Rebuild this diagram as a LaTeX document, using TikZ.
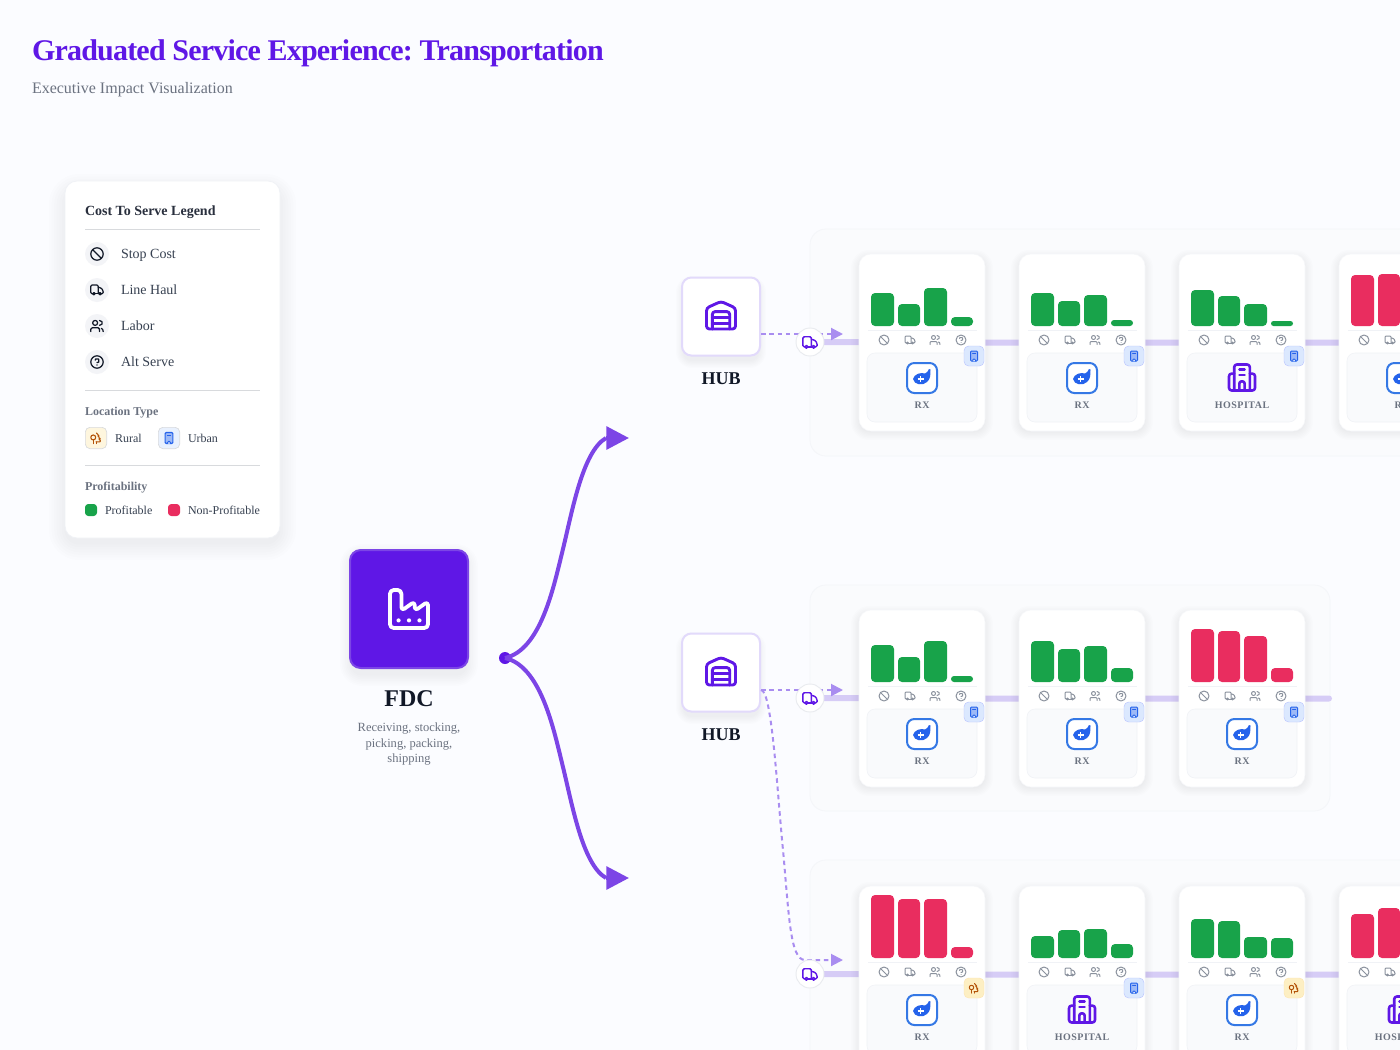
\documentclass[tikz,border=0pt]{standalone}
\usepackage{fontspec}
\setmainfont{Liberation Serif}
\newfontfamily\lblfont[LetterSpace=5]{Liberation Serif}
\usetikzlibrary{arrows.meta,calc}
\definecolor{bgc}{HTML}{FBFCFF}
\definecolor{panelc}{HTML}{F9FAFC}
\definecolor{contc}{HTML}{FAFBFD}
\definecolor{linec}{HTML}{F0F2F6}
\definecolor{purp}{HTML}{5F17E6}
\definecolor{curvec}{HTML}{7C45E6}
\definecolor{lilac}{HTML}{A98DF0}
\definecolor{bandc}{HTML}{D6CCF6}
\definecolor{hubl}{HTML}{E2DAFB}
\definecolor{grn}{HTML}{18A34A}
\definecolor{rd}{HTML}{E92D5F}
\definecolor{dark}{HTML}{111827}
\definecolor{ink}{HTML}{374151}
\definecolor{greyt}{HTML}{6B7280}
\definecolor{icong}{HTML}{8A919D}
\definecolor{blu}{HTML}{3578E5}
\definecolor{blud}{HTML}{2563EB}
\definecolor{orng}{HTML}{B45309}
\definecolor{urbf}{HTML}{DBE8FE}
\definecolor{rurf}{HTML}{FDEFC3}
\pgfdeclarelayer{cont}
\pgfdeclarelayer{bands}
\pgfsetlayers{cont,bands,main}
\tikzset{
  x=.75pt,y=-.75pt,
  every node/.style={inner sep=0pt,outer sep=0pt},
  cardbox/.style={fill=white,draw=linec!60!white,line width=.4pt,rounded corners=9pt,minimum width=94.5pt,minimum height=132.75pt},
  panelbox/.style={fill=panelc,draw=linec,line width=.4pt,rounded corners=6pt,minimum width=82.5pt,minimum height=51.75pt},
  rxbox/.style={fill=white,draw=blu,line width=1.5pt,rounded corners=5.5pt,minimum width=22.5pt,minimum height=22.5pt},
  urbbadge/.style={fill=urbf,draw=urbf!80!blue!90,line width=.3pt,rounded corners=3.5pt,minimum width=15pt,minimum height=15pt},
  rurbadge/.style={fill=rurf,draw=rurf!90!orange,line width=.3pt,rounded corners=3.5pt,minimum width=15pt,minimum height=15pt},
  lblt/.style={font=\lblfont\bfseries\fontsize{7.5pt}{9pt}\selectfont,text=greyt},
  bandline/.style={bandc,line width=4.5pt},
  dashline/.style={lilac,line width=1.5pt,dash pattern=on 3.4pt off 2.8pt},
  dashtip/.style={lilac,line width=1.5pt,-{Triangle[length=9pt,width=9pt,fill=lilac]}},
  bigcurve/.style={curvec,line width=3pt},
  bigtip/.style={curvec,line width=3pt,-{Triangle[length=17pt,width=17pt,fill=curvec]}},
  truckc/.style={circle,fill=white,draw=linec!97!black,line width=.7pt,minimum size=21pt},
  hubbox/.style={fill=white,draw=hubl,line width=1.5pt,rounded corners=7pt,minimum width=58.5pt,minimum height=58.5pt},
  hubt/.style={font=\bfseries\fontsize{13.5pt}{16pt}\selectfont,text=dark},
  lgc/.style={circle,fill=black!3!bgc,minimum size=18pt},
  lgt/.style={anchor=base west,font=\fontsize{10.5pt}{12pt}\selectfont,text=ink},
  lgs/.style={anchor=base west,font=\fontsize{9pt}{11pt}\selectfont,text=ink},
  lgh/.style={anchor=base west,font=\bfseries\fontsize{9pt}{11pt}\selectfont,text=greyt},
  contbox/.style={fill=contc,draw=linec!70!white,line width=.6pt,rounded corners=12pt},
}
% shadow: x0,y0,x1,y1,radius(px),spread(px),opacity
\newcommand\softshadow[7]{%
  \foreach \s in {1,...,7}{%
    \pgfmathsetlengthmacro\rr{(#5+\s*#6/7)*.75pt}%
    \fill[black,opacity=#7,rounded corners=\rr]
      ({#1-\s*#6/7},{#2-\s*#6/7}) rectangle ({#3+\s*#6/7},{#4+\s*#6/7});
  }%
}
% lucide-like icons in a 24 unit box
\newcommand\ico[5]{%
  \pgfmathsetlengthmacro\icu{#4*.75pt}%
  \pgfmathsetlengthmacro\icw{#4*1.5pt}%
  \begin{scope}[shift={(#2,#3)},x=\icu,y=-\icu,shift={(-12,-12)},draw=#5,line width=\icw,line cap=round,line join=round,rounded corners=\icw]
  \csname ic#1\endcsname{#5}
  \end{scope}%
}
\newcommand\icban[1]{\draw (12,12) circle[radius=10]; \draw (4.93,4.93)--(19.07,19.07);}
\newcommand\ictruck[1]{%
  \draw (5,18)--(2,18)--(2,4)--(14,4)--(14,18);
  \draw (15,18)--(9,18);
  \draw (19,18)--(22,18)--(22,13)--(18,8)--(14,8);
  \draw (17,18) circle[radius=2]; \draw (7,18) circle[radius=2];}
\newcommand\icusers[1]{%
  \draw (16,21)--(16,15)--(2,15)--(2,21);
  \draw (9,7) circle[radius=4];
  \draw (22,21) .. controls (22,18) and (21,16.5) .. (19,15.9);
  \draw (16,3.1) .. controls (19,3.9) and (20,5.5) .. (20,7) .. controls (20,8.5) and (19,10.1) .. (16,10.9);}
\newcommand\ichelp[1]{%
  \draw (12,12) circle[radius=10];
  \draw (9.1,9) .. controls (9.6,7.6) and (10.8,7) .. (12,7) .. controls (13.7,7) and (15,8.2) .. (15,10) .. controls (15,12) and (12,13) .. (12,13);
  \draw (12,17)--(12.01,17);}
\newcommand\icfactory[1]{%
  \draw (2,15)--(2,22)--(22,22)--(22,8)--(15,13)--(15,8)--(8,13)--(8,2)--(2,2)--cycle;
  \fill[#1] (17.5,18) circle[radius=1.1]; \fill[#1] (12,18) circle[radius=1.1]; \fill[#1] (6.5,18) circle[radius=1.1];}
\newcommand\icware[1]{%
  \draw (22,15)--(22,22)--(2,22)--(2,7.5)--(12,3)--(22,7.5)--cycle;
  \draw (6,18)--(18,18); \draw (6,14)--(18,14);
  \draw (6,22)--(6,10)--(18,10)--(18,22);}
\newcommand\ichosp[1]{%
  \draw (6,22)--(6,2)--(18,2)--(18,22);
  \draw (6,9)--(2,9)--(2,22)--(22,22)--(22,9)--(18,9);
  \draw (10,6)--(14,6); \draw (10,10)--(14,10);
  \draw[rounded corners=1.5] (10,22)--(10,15)--(14,15)--(14,22);}
\newcommand\icurban[1]{%
  \draw[fill=#1!45!white] (5,2) rectangle (19,22);
  \draw (9,7)--(15,7);
  \draw[fill=white] (9.5,22)--(9.5,18)--(14.5,18)--(14.5,22);}
\newcommand\icrural[1]{%
  \draw (7,11) circle[radius=4.5];
  \draw (7,16)--(7,22); \draw (13,19)--(13,22);
  \draw (12,19)--(21,19)--(18,14)--(19,13)--(16,9)--(17,7.5)--(13,3);}
% inner content macros (use \cx,\cy,\cid)
\newcommand\rxk{%
  \node[panelbox] (\cid p) at ({\cx+63},{\cy+133.5}) {};
  \node[rxbox] (\cid i) at ({\cx+63},{\cy+124}) {};
  \fill[blud] ({\cx+54},{\cy+125}) .. controls ({\cx+55},{\cy+120}) and ({\cx+62},{\cy+118}) .. ({\cx+66},{\cy+119.5}) .. controls ({\cx+68},{\cy+119}) and ({\cx+69},{\cy+117}) .. ({\cx+70},{\cy+115}) -- ({\cx+71.5},{\cy+115.5}) .. controls ({\cx+71.5},{\cy+121}) and ({\cx+71.5},{\cy+125}) .. ({\cx+68},{\cy+128}) .. controls ({\cx+64},{\cy+132}) and ({\cx+55},{\cy+131}) .. ({\cx+54},{\cy+125}) -- cycle;
  \draw[white,line width=.9pt] ({\cx+58.5},{\cy+125})--({\cx+64.5},{\cy+125});
  \draw[white,line width=.9pt] ({\cx+61.5},{\cy+122})--({\cx+61.5},{\cy+128});
  \node[lblt] (\cid l) at ({\cx+63},{\cy+151.5}) {RX};
}
\newcommand\hospk{%
  \node[panelbox] (\cid p) at ({\cx+63},{\cy+133.5}) {};
  \ico{hosp}{\cx+63}{\cy+123.5}{1.3}{purp}
  \node[lblt] (\cid l) at ({\cx+63},{\cy+151.5}) {HOSPITAL};
}
\newcommand\urbk{%
  \node[urbbadge] (\cid b) at ({\cx+115},{\cy+102}) {};
  \ico{urban}{\cx+115}{\cy+102}{.5}{blud}
}
\newcommand\rurk{%
  \node[rurbadge] (\cid b) at ({\cx+115},{\cy+102}) {};
  \ico{rural}{\cx+115}{\cy+102}{.5}{orng}
}
% id, x, y, colour, h1..h4, content
\newcommand\card[9]{%
  \def\cid{#1}\def\cx{#2}\def\cy{#3}%
  \softshadow{#2+1}{#3+5}{#2+125}{#3+177}{9}{9}{.007}
  \node[cardbox] (#1) at ({#2+63},{#3+88.5}) {};
  \foreach \xo/\wd/\hh in {12/23/#5,39/22/#6,65/23/#7,92/22/#8}{%
    \pgfmathsetlengthmacro\br{min(4,\hh/2)*.75pt}%
    \fill[#4,rounded corners=\br] ({#2+\xo},{#3+72-\hh}) rectangle ({#2+\xo+\wd},{#3+72});
  }
  \draw[linec,line width=.6pt] ({#2+9},{#3+76.5})--({#2+118},{#3+76.5});
  \ico{ban}{#2+25}{#3+86}{.5}{icong}
  \ico{truck}{#2+51}{#3+86}{.5}{icong}
  \ico{users}{#2+76}{#3+86}{.5}{icong}
  \ico{help}{#2+102}{#3+86}{.5}{icong}
  #9
}
\begin{document}
\begin{tikzpicture}
\frenchspacing
\useasboundingbox (0,0) rectangle (1400,1050);
\clip (0,0) rectangle (1400,1050);
\begin{pgfonlayer}{cont}
\fill[bgc] (0,0) rectangle (1400,1050);
\end{pgfonlayer}
% heading
\node[anchor=base west,font=\bfseries\fontsize{22.5pt}{27pt}\selectfont,text=purp] (title) at (32,60) {\addfontfeature{LetterSpace=-2.65}Graduated Service Experience: Transportation};
\node[anchor=base west,font=\fontsize{12pt}{15pt}\selectfont,text=greyt] (subtitle) at (32,93) {Executive Impact Visualization};
% legend
\softshadow{67}{192}{278}{542}{12}{18}{.007}
\node[fill=white,draw=linec,line width=.6pt,rounded corners=9pt,minimum width=161.25pt,minimum height=267.75pt] (legend) at (172.5,359.5) {};
\node[anchor=base west,font=\bfseries\fontsize{10.5pt}{12pt}\selectfont,text=dark!90!white] (lgtitle) at (85,215) {Cost To Serve Legend};
\draw[linec!90!black,line width=.75pt] (85,229.5)--(260,229.5);
\node[lgc] (li1) at (97,254) {}; \ico{ban}{97}{254}{.62}{dark}
\node[lgc] (li2) at (97,290) {}; \ico{truck}{97}{290}{.62}{dark}
\node[lgc] (li3) at (97,326) {}; \ico{users}{97}{326}{.62}{dark}
\node[lgc] (li4) at (97,362) {}; \ico{help}{97}{362}{.62}{dark}
\node[lgt] (lt1) at (121,258) {Stop Cost};
\node[lgt] (lt2) at (121,294) {Line Haul};
\node[lgt] (lt3) at (121,330) {Labor};
\node[lgt] (lt4) at (121,366) {Alt Serve};
\draw[linec!90!black,line width=.75pt] (85,390.5)--(260,390.5);
\node[lgh] (lh1) at (85,415) {Location Type};
\node[fill=rurf!55!white,draw=linec!90!black,line width=.5pt,rounded corners=3.5pt,minimum size=16pt] (lb1) at (96,438) {};
\ico{rural}{96}{438}{.55}{orng}
\node[lgs] (ls1) at (115,442) {Rural};
\node[fill=urbf!60!white,draw=linec!90!black,line width=.5pt,rounded corners=3.5pt,minimum size=16pt] (lb2) at (169,438) {};
\ico{urban}{169}{438}{.55}{blud}
\node[lgs] (ls2) at (188,442) {Urban};
\draw[linec!90!black,line width=.75pt] (85,465.5)--(260,465.5);
\node[lgh] (lh2) at (85,490) {Profitability};
\node[fill=grn,rounded corners=2.5pt,minimum size=9pt] (ld1) at (91,510) {};
\node[lgs] (lp1) at (105,514) {Profitable};
\node[fill=rd,rounded corners=2.5pt,minimum size=9pt] (ld2) at (174,510) {};
\node[lgs] (lp2) at (188,514) {Non-Profitable};
% FDC
\softshadow{352}{556}{466}{674}{10}{12}{.006}
\node[fill=purp,draw=curvec,line width=1.5pt,rounded corners=8pt,minimum width=88.5pt,minimum height=88.5pt] (fdc) at (409,609) {};
\ico{factory}{409}{609}{1.9}{white}
\node[anchor=base,font=\bfseries\fontsize{18pt}{22pt}\selectfont,text=dark] (fdcname) at (409,706) {FDC};
\node[align=center,font=\fontsize{9.4pt}{11.6pt}\selectfont,text=greyt] (fdcsub) at (409,744) {Receiving, stocking,\\picking, packing,\\shipping};
% fork
\node[circle,fill=purp,minimum size=9pt] (fork) at (505,658) {};
\coordinate (up1) at (606,438); \coordinate (up2) at (629,438);
\coordinate (dn1) at (606,878); \coordinate (dn2) at (629,878);
\draw[bigcurve] (fork.center) .. controls (540,650) and (553,590) .. (562,553) .. controls (572,513) and (582,452) .. (up1);
\draw[bigcurve] (fork.center) .. controls (540,666) and (553,726) .. (562,763) .. controls (572,803) and (582,864) .. (dn1);
\draw[bigtip] (up1)--(up2);
\draw[bigtip] (dn1)--(dn2);
% containers
\begin{pgfonlayer}{cont}
\node[contbox,minimum width=465pt,minimum height=170.25pt,anchor=north west] (row1) at (810,229) {};
\node[contbox,minimum width=390pt,minimum height=169.5pt,anchor=north west] (row2) at (810,585) {};
\node[contbox,minimum width=465pt,minimum height=170.25pt,anchor=north west] (row3) at (810,860) {};
\end{pgfonlayer}
% cards
\card{a1}{859}{254}{grn}{33}{22}{38}{9}{\rxk\urbk}
\card{a2}{1019}{254}{grn}{33}{25}{31}{6}{\rxk\urbk}
\card{a3}{1179}{254}{grn}{36}{30}{22}{5}{\hospk\urbk}
\card{a4}{1339}{254}{rd}{51}{52}{40}{10}{\rxk\urbk}
\card{b1}{859}{610}{grn}{37}{25}{41}{6}{\rxk\urbk}
\card{b2}{1019}{610}{grn}{41}{33}{36}{14}{\rxk\urbk}
\card{b3}{1179}{610}{rd}{53}{51}{46}{14}{\rxk\urbk}
\card{c1}{859}{886}{rd}{63}{59}{59}{11}{\rxk\rurk}
\card{c2}{1019}{886}{grn}{22}{28}{29}{14}{\hospk\urbk}
\card{c3}{1179}{886}{grn}{39}{37}{21}{20}{\rxk\rurk}
\card{c4}{1339}{886}{rd}{44}{50}{40}{10}{\hospk\urbk}
% hubs
\softshadow{684}{284}{758}{360}{8}{8}{.007}
\node[hubbox] (h1) at (721,316.5) {};
\ico{ware}{721}{314.5}{1.45}{purp}
\node[anchor=base,hubt] (h1t) at (721,384) {HUB};
\softshadow{684}{640}{758}{716}{8}{8}{.007}
\node[hubbox] (h2) at (721,672.5) {};
\ico{ware}{721}{670.5}{1.45}{purp}
\node[anchor=base,hubt] (h2t) at (721,740) {HUB};
% dashed connectors
\coordinate (h1o) at (761,334); \coordinate (h2o) at (761,690);
\coordinate (d1a) at (831,334); \coordinate (d1b) at (843,334);
\coordinate (d2a) at (831,690); \coordinate (d2b) at (843,690);
\coordinate (d3a) at (831,960); \coordinate (d3b) at (843,960);
\draw[dashline] (h1o)--(d1a);
\draw[dashline] (h2o)--(d2a);
\draw[dashline] (h2o) .. controls (772,690) and (777,790) .. (783,850) .. controls (789,915) and (790,960) .. (805,960) -- (d3a);
\draw[dashtip] (d1a)--(d1b);
\draw[dashtip] (d2a)--(d2b);
\draw[dashtip] (d3a)--(d3b);
% truck stops
\node[truckc] (t1) at (810,342) {}; \ico{truck}{810}{342.5}{.72}{purp}
\node[truckc] (t2) at (810,698) {}; \ico{truck}{810}{698.5}{.72}{purp}
\node[truckc] (t3) at (810,974) {}; \ico{truck}{810}{974.5}{.72}{purp}
% bands
\coordinate (endb) at (1329,698.5);
\begin{pgfonlayer}{bands}
\draw[bandline] (t1.center)--(a1.center)--(a2.center)--(a3.center)--(a4.center);
\draw[bandline,line cap=round] (t2.center)--(b1.center)--(b2.center)--(b3.center)--(endb);
\draw[bandline] (t3.center)--(c1.center)--(c2.center)--(c3.center)--(c4.center);
\end{pgfonlayer}
\end{tikzpicture}
\end{document}
